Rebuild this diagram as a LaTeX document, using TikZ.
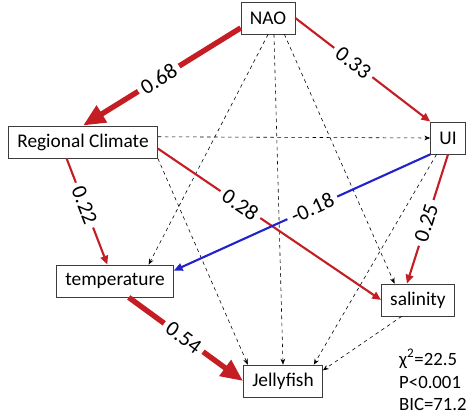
\documentclass[tikz,border=0pt]{standalone}
\usepackage{fontspec}
\setmainfont{Carlito}
\usetikzlibrary{arrows.meta}
\definecolor{semred}{HTML}{C41E24}
\definecolor{semblue}{HTML}{2222CC}
\definecolor{semgray}{HTML}{3C3C3C}

\begin{document}
\begin{tikzpicture}[x=0.03cm, y=-0.03cm, font=\fontsize{16.5}{19.6}\selectfont,
    var/.style={draw=semgray, line width=0.7pt, fill=white, minimum height=0.96cm, inner xsep=7.5pt},
    coef/.style={fill=white, text=black, sloped, inner xsep=4pt, inner ysep=1.5pt, font=\fontsize{18.5}{20}\selectfont},
    redpath/.style={semred, line width=1.8pt, -{Triangle[length=7.5pt,width=6.5pt]}},
    thickpath/.style={semred, line width=4.6pt, -{Triangle[length=19pt,width=16pt]}},
    bluepath/.style={semblue, line width=1.8pt, -{Triangle[length=7.5pt,width=6.5pt]}},
    dashpath/.style={black, dashed, line width=0.5pt, -{Stealth[length=5pt,width=4pt]}},
    stat/.style={anchor=base west, inner sep=0pt, font=\fontsize{16}{19}\selectfont}]
    \useasboundingbox (0,0) rectangle (474,413);
    % variables
    \node[var] (nao) at (268,18) {NAO};
    \node[var] (rc) at (83,142) {Regional Climate};
    \node[var] (ui) at (448,138) {UI};
    \node[var] (temp) at (115,281) {temperature};
    \node[var] (sal) at (418,300) {salinity};
    \node[var] (jelly) at (283,381) {Jellyfish};
    % non-significant paths
    \draw[dashpath] (rc.4) -- (ui.west);
    \draw[dashpath] (nao.south) -- (temp.26);
    \draw[dashpath] (nao.-70) -- (jelly.north);
    \draw[dashpath] (nao.-45) -- (sal.145);
    \draw[dashpath] (rc.south east) -- (jelly.155);
    \draw[dashpath] (ui.-125) -- (jelly.28);
    \draw[dashpath] (sal.-135) -- (jelly.15);
    % significant paths
    \draw[thickpath] (nao.200) -- node[coef, pos=0.52] {0.68} (rc.north);
    \draw[redpath] (nao.east) -- node[coef, pos=0.43] {0.33} (ui.north west);
    \draw[redpath] (rc.-135) -- node[coef, pos=0.44] {0.22} (temp.115);
    \draw[redpath] (rc.-5) -- node[coef, pos=0.37] {0.28} (sal.west);
    \draw[bluepath] (ui.south west) -- node[coef, pos=0.46] {-0.18} (temp.10);
    \draw[redpath] (ui.south) -- node[coef, pos=0.53] {0.25} (sal.124);
    \draw[thickpath] (temp.-50) -- node[coef, pos=0.48] {0.54} (jelly.west);
    % fit
    \node[stat] (chi) at (399,365) {χ\textsuperscript{2}=22.5};
    \node[stat] (pval) at (399,388) {P<0.001};
    \node[stat] (bic) at (399,410) {BIC=71.2};
  \end{tikzpicture}
\end{document}
